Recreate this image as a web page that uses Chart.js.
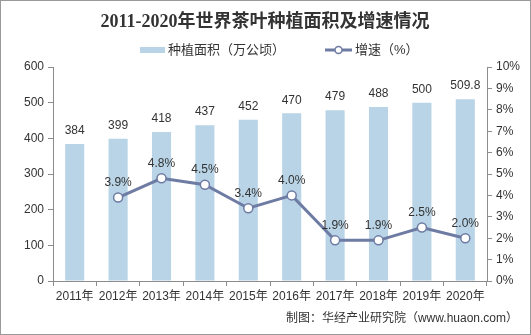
<!DOCTYPE html>
<html>
<head>
<meta charset="utf-8">
<script src="https://cdn.jsdelivr.net/npm/chart.js@4.4.1/dist/chart.umd.min.js"></script>
<style>
  html, body { margin: 0; padding: 0; background: #fff; }
  #wrap { width: 529px; height: 333px; border: 1px solid #9a9a9a; }
</style>
</head>
<body>
<div id="wrap"><canvas id="teaChart" width="529" height="333"></canvas></div>
<script>
// 2011-2020年世界茶叶种植面积及增速
const years = ['2011年', '2012年', '2013年', '2014年', '2015年', '2016年', '2017年', '2018年', '2019年', '2020年'];
const areaData = [384, 399, 418, 437, 452, 470, 479, 488, 500, 509.8];
const growthData = [null, 3.9, 4.8, 4.5, 3.4, 4.0, 1.9, 1.9, 2.5, 2.0];
const leftTicks = [0, 100, 200, 300, 400, 500, 600];
const rightTicks = [0, 1, 2, 3, 4, 5, 6, 7, 8, 9, 10];

const barColor = '#b8d4e6';
const lineColor = '#6e7ba3';
const axisColor = '#8c8c8c';
const textColor = '#333333';
const cjk = "'Liberation Sans', 'Noto Sans CJK SC', sans-serif";

// 数値ラベル・タイトル・凡例・出典の描画
const decor = {
    id: 'decor',
    afterDatasetsDraw(chart) {
        const c = chart.ctx;
        c.save();
        c.fillStyle = textColor;
        c.font = '12px ' + cjk;
        c.textAlign = 'center';
        c.textBaseline = 'middle';
        chart.getDatasetMeta(1).data.forEach((el, i) => {
            c.fillText(String(areaData[i]), el.x, el.y - 13);
        });
        chart.getDatasetMeta(0).data.forEach((el, i) => {
            if (growthData[i] == null) return;
            c.fillText(growthData[i].toFixed(1) + '%', el.x, el.y - 15);
        });

        // タイトル
        c.font = "bold 18px 'Liberation Serif', 'Noto Sans CJK SC', serif";
        c.fillStyle = '#333';
        c.fillText('2011-2020年世界茶叶种植面积及增速情况', 264, 21);

        // 凡例
        c.font = '13px ' + cjk;
        c.textAlign = 'left';
        c.fillStyle = barColor;
        c.fillRect(139, 46, 25, 6);
        c.fillStyle = textColor;
        c.fillText('种植面积（万公顷）', 167, 49);
        c.strokeStyle = lineColor;
        c.lineWidth = 3;
        c.beginPath(); c.moveTo(324, 49); c.lineTo(351, 49); c.stroke();
        c.fillStyle = '#fff';
        c.lineWidth = 1.5;
        c.beginPath(); c.arc(337.5, 49, 3.5, 0, Math.PI * 2); c.fill(); c.stroke();
        c.fillStyle = textColor;
        c.fillText('增速（%）', 354, 49);

        // 出典
        c.font = '12px ' + cjk;
        c.textAlign = 'right';
        c.fillText('制图：华经产业研究院（www.huaon.com）', 517, 318);
        c.restore();
    }
};

const ctx = document.getElementById('teaChart').getContext('2d');
const teaChart = new Chart(ctx, {
    data: {
        labels: years,
        datasets: [
            {
                type: 'line',
                label: '增速（%）',
                data: growthData,
                yAxisID: 'y1',
                borderColor: lineColor,
                borderWidth: 3,
                pointRadius: 4.5,
                pointBorderWidth: 1.5,
                pointBackgroundColor: '#ffffff',
                pointBorderColor: lineColor,
                tension: 0,
                order: 0
            },
            {
                type: 'bar',
                label: '种植面积（万公顷）',
                data: areaData,
                yAxisID: 'y',
                backgroundColor: barColor,
                categoryPercentage: 1,
                barPercentage: 0.44,
                order: 1
            }
        ]
    },
    options: {
        responsive: false,
        animation: false,
        layout: { padding: { top: 66, bottom: 23, left: 0, right: 0 } },
        plugins: {
            legend: { display: false },
            tooltip: { enabled: false }
        },
        scales: {
            x: {
                offset: true,
                grid: { offset: true, drawOnChartArea: false, color: axisColor, tickLength: 5 },
                border: { color: axisColor },
                ticks: { color: textColor, font: { size: 12, family: cjk }, padding: 3, maxRotation: 0, autoSkip: false },
                afterFit(s) { s.height = 30; }
            },
            y: {
                position: 'left',
                min: 0, max: 600,
                afterBuildTicks(s) { s.ticks = leftTicks.map(v => ({ value: v })); },
                grid: { drawOnChartArea: false, color: axisColor, tickLength: 5 },
                border: { color: axisColor },
                ticks: { color: textColor, font: { size: 12, family: cjk }, padding: 4 },
                afterFit(s) { s.width = 52; }
            },
            y1: {
                position: 'right',
                min: 0, max: 10,
                afterBuildTicks(s) { s.ticks = rightTicks.map(v => ({ value: v })); },
                grid: { drawOnChartArea: false, color: axisColor, tickLength: 5 },
                border: { color: axisColor },
                ticks: { color: textColor, font: { size: 12, family: cjk }, padding: 4, callback: v => v + '%' },
                afterFit(s) { s.width = 43; }
            }
        }
    },
    plugins: [decor]
});
</script>
</body>
</html>
